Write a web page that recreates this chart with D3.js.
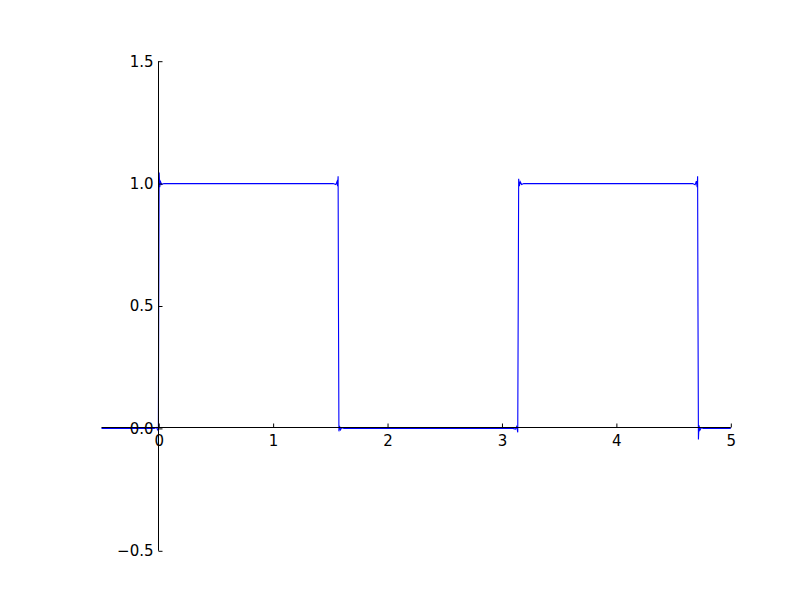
<!DOCTYPE html>
<html>
<head>
<meta charset="utf-8">
<script src="https://cdn.jsdelivr.net/npm/d3@7"></script>
<style>
  html, body { margin: 0; padding: 0; background: #fff; }
  svg { display: block; }
  text { font-family: "DejaVu Sans", sans-serif; }
</style>
</head>
<body>
<svg id="chart" width="812" height="612"></svg>
<script>
// Tick values / labels
const xTicks = [0, 1, 2, 3, 4, 5];
const xTickLabels = ["0", "1", "2", "3", "4", "5"];
const yTicks = [-0.5, 0.0, 0.5, 1.0, 1.5];
const yTickLabels = ["\u22120.5", "0.0", "0.5", "1.0", "1.5"];

// Square-wave approximation: x and y points
const waveX = [
  -0.5, -0.04, -0.02, -0.008, -0.003, 0.0, 0.004, 0.009, 0.016, 0.026, 0.045,
  1.525, 1.548, 1.558, 1.564, 1.568, 1.571, 1.575, 1.58, 1.588, 1.6, 1.62,
  3.095, 3.118, 3.128, 3.134, 3.138, 3.142, 3.146, 3.152, 3.16, 3.172, 3.19,
  4.667, 4.688, 4.699, 4.706, 4.71, 4.713, 4.717, 4.722, 4.73, 4.742, 4.76,
  5.0
];
const waveY = [
  0.0, 0.0, 0.004, -0.006, -0.01, 0.5, 1.045, 0.985, 1.008, 0.996, 1.0,
  1.0, 0.996, 1.008, 0.99, 1.03, 0.5, -0.012, 0.01, -0.006, 0.003, 0.0,
  0.0, -0.003, 0.007, -0.005, -0.016, 0.5, 1.02, 0.99, 1.007, 0.996, 1.0,
  1.0, 0.995, 1.01, 0.985, 1.03, 0.5, -0.045, 0.012, -0.007, 0.003, 0.0,
  0.0
];

const svg = d3.select("#chart");
const W = 812, H = 612;
const x = d3.scaleLinear().domain([-0.5, 5]).range([101.5, 730.8]);
const y = d3.scaleLinear().domain([-0.5, 1.5]).range([550.8, 61.2]);

// Line
const pts = waveX.map((d, i) => [d, waveY[i]]);
const line = d3.line().x(d => x(d[0])).y(d => y(d[1]));
svg.append("path")
  .datum(pts)
  .attr("d", line)
  .attr("fill", "none")
  .attr("stroke", "#0000ff")
  .attr("stroke-width", 1.1)
  .attr("stroke-linejoin", "miter");

// Spines (at zero)
svg.append("line")
  .attr("x1", x(-0.5)).attr("x2", x(5))
  .attr("y1", Math.round(y(0)) - 0.5).attr("y2", Math.round(y(0)) - 0.5)
  .attr("stroke", "#000").attr("stroke-width", 1);
svg.append("line")
  .attr("x1", Math.round(x(0)) - 0.5).attr("x2", Math.round(x(0)) - 0.5)
  .attr("y1", y(1.5)).attr("y2", y(-0.5))
  .attr("stroke", "#000").attr("stroke-width", 1);

// X axis ticks (inward = upward)
const xAxis = d3.axisBottom(x).tickValues(xTicks)
  .tickFormat((d, i) => xTickLabels[i]).tickSizeInner(-4).tickSizeOuter(0).tickPadding(8);
const gx = svg.append("g")
  .attr("transform", `translate(0,${Math.round(y(0)) - 0.5})`)
  .call(xAxis);
gx.select(".domain").remove();
gx.selectAll("text").attr("font-size", 15).attr("font-family", "DejaVu Sans").attr("fill", "#000");
gx.selectAll("line").attr("stroke", "#000");

// Y axis ticks (inward = rightward)
const yAxis = d3.axisLeft(y).tickValues(yTicks)
  .tickFormat((d, i) => yTickLabels[i]).tickSizeInner(-4).tickSizeOuter(0).tickPadding(5);
const gy = svg.append("g")
  .attr("transform", `translate(${Math.round(x(0)) - 0.5},0)`)
  .call(yAxis);
gy.select(".domain").remove();
gy.selectAll("text").attr("font-size", 15).attr("font-family", "DejaVu Sans").attr("fill", "#000");
gy.selectAll("line").attr("stroke", "#000");
</script>
</body>
</html>
